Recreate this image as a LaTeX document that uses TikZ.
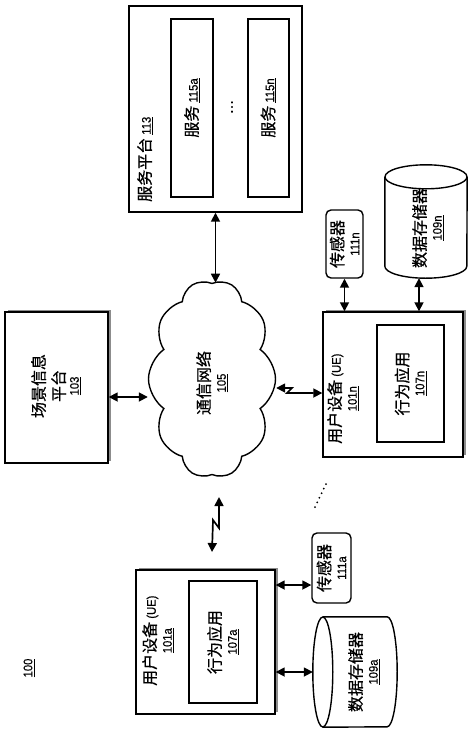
\documentclass[tikz,border=0pt]{standalone}
\usepackage{fontspec}
\setmainfont{Liberation Sans}[FakeStretch=0.9,FakeBold=0.4]
\newfontfamily\lat{Liberation Sans}[FakeStretch=0.9,FakeBold=0.4]
\newfontfamily\cjk{Noto Sans CJK SC}[FakeBold=0.6]
\usetikzlibrary{arrows.meta,shapes.symbols,shadows}
\newcommand\zh[1]{{\cjk\fontsize{16}{18}\selectfont #1}}
\newcommand\refnum[1]{\underline{#1}}
\begin{document}
\begin{tikzpicture}[x=1pt,y=-1pt,
  line/.style={line width=1.4pt},
  box/.style={draw, line width=1.4pt, fill=white, inner sep=0pt},
  shadowed/.style={drop shadow={shadow xshift=2.5pt, shadow yshift=2.5pt, fill=black!45, opacity=1}},
  sensorbox/.style={draw, line width=1.4pt, fill=white, rounded corners=5pt, inner sep=0pt},
  txt/.style={rotate=90, inner sep=0pt, align=center, font=\lat\fontsize{12.5}{20}\selectfont},
  dbl/.style={{Triangle[length=9pt,width=9pt]}-{Triangle[length=9pt,width=9pt]}, line width=1.7pt}]
\useasboundingbox (0,0) rectangle (474,737);

% service platform
\node[box, minimum width=173pt, minimum height=206pt] (sp) at (215.5,109) {};
\node[box, minimum width=42pt, minimum height=178pt] (s1) at (192,108) {};
\node[txt] (s1t) at (s1.center) {\zh{服务} \refnum{115a}};
\node[box, minimum width=41pt, minimum height=178pt] (s2) at (268.5,108) {};
\node[txt] (s2t) at (s2.center) {\zh{服务} \refnum{115n}};
\node[txt, font=\lat\fontsize{16}{18}\selectfont] (dots) at (232,107) {…};
\node[txt, anchor=north west] (spl) at (137,202) {\zh{服务平台} \refnum{113}};

% scene info platform
\node[box, shadowed, minimum width=103pt, minimum height=151pt] (sc) at (56.5,387.5) {};
\node[txt] (sct) at (56,386) {\zh{场景信息}\\\zh{平台}\\[-6pt]\refnum{103}};

% cloud
\node[cloud, draw, line width=1.4pt, rotate=90, cloud puffs=10, cloud puff arc=110, aspect=1.56, minimum width=198pt, minimum height=127pt, inner sep=0pt] (cl) at (212,379) {};
\node[txt] (clt) at (212,383) {\zh{通信网络}\\[-4pt]\refnum{105}};

% UE n
\node[box, shadowed, minimum width=140pt, minimum height=145pt] (uen) at (393,384.5) {};
\node[box, minimum width=67pt, minimum height=117pt] (apn) at (410.5,383.5) {};
\node[txt] (apnt) at (apn.center) {\zh{行为应用}\\[-4pt]\refnum{107n}};
\node[txt, anchor=north west] (uenl) at (327,444) {\zh{用户设备} (UE)\\[-4pt]\refnum{101n}};

% sensor n
\node[sensorbox, minimum width=37pt, minimum height=68pt] (sen) at (344.5,244) {};
\node[txt] (sent) at (sen.center) {\zh{传感器}\\[-4pt]111n};

% datastore n
\node[inner sep=0pt, minimum width=82pt, minimum height=113pt] (dsn) at (426,221.5) {};
\draw[line] ([yshift=-12pt]dsn.north west) -- ([yshift=12pt]dsn.south west)
  arc[start angle=180, end angle=360, x radius=41pt, y radius=12pt] -- ([yshift=-12pt]dsn.north east);
\draw[line] ([yshift=-12pt]dsn.north) ellipse [x radius=41pt, y radius=12pt];
\node[txt] (dsnt) at (428,228) {\zh{数据存储器}\\[-4pt]\refnum{109n}};

% UE a
\node[box, shadowed, minimum width=139pt, minimum height=144pt] (uea) at (205.5,642) {};
\node[box, minimum width=68pt, minimum height=122pt] (apa) at (223,642) {};
\node[txt] (apat) at (apa.center) {\zh{行为应用}\\[-4pt]\refnum{107a}};
\node[txt, anchor=north west] (ueal) at (142,686) {\zh{用户设备} (UE)\\[-4pt]\refnum{101a}};

% sensor a
\node[sensorbox, minimum width=39pt, minimum height=70pt] (sea) at (331.5,568) {};
\node[txt] (seat) at (sea.center) {\zh{传感器}\\[-4pt]111a};

% datastore a
\node[inner sep=0pt, minimum width=84pt, minimum height=110pt] (dsa) at (355,672) {};
\draw[line] ([xshift=10pt]dsa.north west) -- ([xshift=-10pt]dsa.north east)
  arc[start angle=90, end angle=-90, x radius=10pt, y radius=55pt] -- ([xshift=10pt]dsa.south west);
\draw[line] ([xshift=10pt]dsa.west) ellipse [x radius=10pt, y radius=55pt];
\node[txt] (dsat) at (364,672) {\zh{数据存储器}\\[-4pt]\refnum{109a}};

% figure number
\node[txt] (fig) at (29,668) {\refnum{100}};

% connectors
\draw[dbl] (sp.south) -- (sp.south |- cl.east);
\draw[dbl] (sc.east |- 0,397) -- (cl.north |- 0,397);
\draw[dbl] (cl.south |- 0,388) -- (292,388) -- (287,393) -- (uen.west |- 0,393);
\draw[dbl] (sen.south) -- (sen.south |- uen.north);
\draw[dbl] (419,0 |- dsn.south) -- (419,0 |- uen.north);
\coordinate (lt) at (219,497);
\coordinate (lb) at (212,552);
\draw[dbl] (lt) -- (219,528) -- (213,520) -- (lb);
\draw[dbl] (uea.east |- 0,585) -- (sea.west |- 0,585);
\draw[dbl] (uea.east |- 0,672) -- (dsa.west |- 0,672);

% dots
\foreach \i in {0,...,5} {\fill ({326-2.2*\i},{484+4.6*\i}) circle[radius=1pt];}
\end{tikzpicture}
\end{document}
